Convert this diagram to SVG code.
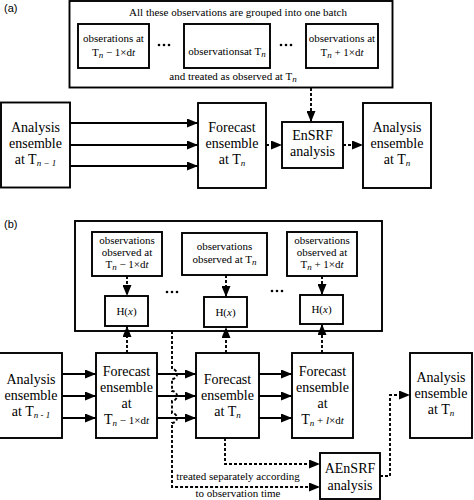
<svg xmlns="http://www.w3.org/2000/svg" width="474" height="500" viewBox="0 0 474 500">
<style>
.t{font-family:"Liberation Serif","Times New Roman",serif;fill:#000;text-anchor:middle}
.lab{font-family:"Liberation Sans",Arial,sans-serif;font-size:11px;fill:#000}
.s14{font-size:14px}
.s11{font-size:11px}
.i{font-style:italic}
.sb{font-size:9px}
.box{fill:#fff;stroke:#000;stroke-width:1.9}
.ln{stroke:#000;stroke-width:1.9;fill:none}
.dash{stroke-dasharray:3 2}
</style>
<defs>
<marker id="ah" markerUnits="userSpaceOnUse" markerWidth="11" markerHeight="9" refX="11" refY="4.5" orient="auto">
<path d="M0,0 L11,4.5 L0,9 z" fill="#000"/>
</marker>
</defs>
<rect width="474" height="500" fill="#fff"/>

<!-- Panel (a) -->
<text class="lab" x="4" y="12">(a)</text>
<g id="batch">
<rect class="box" x="69.5" y="1" width="323" height="86.5"/>
<text class="t s11" x="238" y="16">All these observations are grouped into one batch</text>
<text class="t s11" x="233" y="80">and treated as observed at T<tspan class="i sb" dy="2">n</tspan></text>
<circle cx="159" cy="45" r="1.3"/><circle cx="164" cy="45" r="1.3"/><circle cx="169" cy="45" r="1.3"/>
<circle cx="281" cy="45" r="1.3"/><circle cx="286" cy="45" r="1.3"/><circle cx="291" cy="45" r="1.3"/>
</g>
<g id="a-obs1">
<rect class="box" x="78" y="24" width="71" height="44"/>
<text class="t s11" x="113.5" y="42">obserations at</text>
<text class="t s11" x="113.5" y="56">T<tspan class="i sb" dy="2">n</tspan><tspan dy="-2"> − 1×d</tspan><tspan class="i">t</tspan></text>
</g>
<g id="a-obs2">
<rect class="box" x="184" y="24" width="86" height="44"/>
<text class="t s11" x="227" y="55">observationsat T<tspan class="i sb" dy="2">n</tspan></text>
</g>
<g id="a-obs3">
<rect class="box" x="306" y="24" width="72" height="44"/>
<text class="t s11" x="342" y="42">observations at</text>
<text class="t s11" x="342" y="56">T<tspan class="i sb" dy="2">n</tspan><tspan dy="-2"> + 1×d</tspan><tspan class="i">t</tspan></text>
</g>
<g id="a-analysis-prev">
<rect class="box" x="1" y="102.5" width="69" height="85"/>
<text class="t s14" x="35.5" y="132">Analysis</text>
<text class="t s14" x="35.5" y="148">ensemble</text>
<text class="t s14" x="35.5" y="164">at T<tspan class="i sb" dy="2">n − 1</tspan></text>
</g>
<g id="a-forecast">
<rect class="box" x="198" y="103" width="68" height="85"/>
<text class="t s14" x="232" y="132">Forecast</text>
<text class="t s14" x="232" y="148">ensemble</text>
<text class="t s14" x="232" y="164">at T<tspan class="i sb" dy="2">n</tspan></text>
</g>
<g id="a-ensrf">
<rect class="box" x="282" y="122" width="61" height="46"/>
<text class="t s14" x="312.5" y="140">EnSRF</text>
<text class="t s14" x="312.5" y="156">analysis</text>
</g>
<g id="a-analysis">
<rect class="box" x="363" y="103" width="68" height="85"/>
<text class="t s14" x="397" y="132">Analysis</text>
<text class="t s14" x="397" y="148">ensemble</text>
<text class="t s14" x="397" y="164">at T<tspan class="i sb" dy="2">n</tspan></text>
</g>
<g id="a-connectors">
<line class="ln" x1="70" y1="123" x2="198" y2="123" marker-end="url(#ah)"/>
<line class="ln" x1="70" y1="145" x2="198" y2="145" marker-end="url(#ah)"/>
<line class="ln" x1="70" y1="166" x2="198" y2="166" marker-end="url(#ah)"/>
<line class="ln dash" x1="311" y1="88" x2="311" y2="122" marker-end="url(#ah)"/>
<line class="ln dash" x1="266" y1="145" x2="282" y2="145" marker-end="url(#ah)"/>
<line class="ln dash" x1="343" y1="145" x2="363" y2="145" marker-end="url(#ah)"/>
</g>

<!-- Panel (b) -->
<text class="lab" x="4" y="228">(b)</text>
<g id="b-container">
<rect class="box" x="75" y="221" width="307" height="110"/>
<circle cx="167" cy="292" r="1.3"/><circle cx="172" cy="292" r="1.3"/><circle cx="177" cy="292" r="1.3"/>
<circle cx="272" cy="291" r="1.3"/><circle cx="277" cy="291" r="1.3"/><circle cx="282" cy="291" r="1.3"/>
</g>
<g id="b-obs1">
<rect class="box" x="92" y="232" width="70" height="44"/>
<text class="t s11" x="127" y="244">observations</text>
<text class="t s11" x="127" y="256">observed at</text>
<text class="t s11" x="127" y="268">T<tspan class="i sb" dy="2">n</tspan><tspan dy="-2"> − 1×d</tspan><tspan class="i">t</tspan></text>
</g>
<g id="b-obs2">
<rect class="box" x="182" y="233" width="85" height="42"/>
<text class="t s11" x="224.5" y="250">observations</text>
<text class="t s11" x="224.5" y="263">observed at T<tspan class="i sb" dy="2">n</tspan></text>
</g>
<g id="b-obs3">
<rect class="box" x="287" y="232" width="70" height="44"/>
<text class="t s11" x="322" y="244">observations</text>
<text class="t s11" x="322" y="256">observed at</text>
<text class="t s11" x="322" y="268">T<tspan class="i sb" dy="2">n</tspan><tspan dy="-2"> + 1×d</tspan><tspan class="i">t</tspan></text>
</g>
<g id="b-h1">
<rect class="box" x="105" y="296" width="43" height="30"/>
<text class="t s11" x="126.5" y="315">H(<tspan class="i">x</tspan>)</text>
</g>
<g id="b-h2">
<rect class="box" x="204" y="297" width="43" height="30"/>
<text class="t s11" x="225.5" y="316">H(<tspan class="i">x</tspan>)</text>
</g>
<g id="b-h3">
<rect class="box" x="300" y="295" width="43" height="29"/>
<text class="t s11" x="321.5" y="313">H(<tspan class="i">x</tspan>)</text>
</g>
<g id="b-analysis-prev">
<rect class="box" x="-1" y="353" width="63" height="85"/>
<text class="t s14" x="31" y="384">Analysis</text>
<text class="t s14" x="31" y="400">ensemble</text>
<text class="t s14" x="31" y="416">at T<tspan class="i sb" dy="2">n - 1</tspan></text>
</g>
<g id="b-forecast1">
<rect class="box" x="96" y="353" width="61" height="85"/>
<text class="t s14" x="126.5" y="376">Forecast</text>
<text class="t s14" x="126.5" y="392">ensemble</text>
<text class="t s14" x="126.5" y="408">at</text>
<text class="t s14" x="126.5" y="424">T<tspan class="i sb" dy="2">n</tspan><tspan class="s11" dy="-2"> − 1×d</tspan><tspan class="s11 i">t</tspan></text>
</g>
<g id="b-forecast2">
<rect class="box" x="196" y="353" width="63" height="85"/>
<text class="t s14" x="227.5" y="384">Forecast</text>
<text class="t s14" x="227.5" y="400">ensemble</text>
<text class="t s14" x="227.5" y="416">at T<tspan class="i sb" dy="2">n</tspan></text>
</g>
<g id="b-forecast3">
<rect class="box" x="292" y="353" width="61" height="85"/>
<text class="t s14" x="322.5" y="376">Forecast</text>
<text class="t s14" x="322.5" y="392">ensemble</text>
<text class="t s14" x="322.5" y="408">at</text>
<text class="t s14" x="322.5" y="424">T<tspan class="i sb" dy="2">n</tspan><tspan class="s11" dy="-2"> + </tspan><tspan class="s11 i">l</tspan><tspan class="s11">×d</tspan><tspan class="s11 i">t</tspan></text>
</g>
<g id="b-aensrf">
<rect class="box" x="320" y="453" width="60" height="46"/>
<text class="t s14" x="350" y="473">AEnSRF</text>
<text class="t s14" x="350" y="490">analysis</text>
</g>
<g id="b-analysis">
<rect class="box" x="410" y="353" width="62" height="85"/>
<text class="t s14" x="441" y="382">Analysis</text>
<text class="t s14" x="441" y="398">ensemble</text>
<text class="t s14" x="441" y="414">at T<tspan class="i sb" dy="2">n</tspan></text>
</g>
<g id="b-labels">
<text class="t s11" x="238" y="480">treated separately according</text>
<text class="t s11" x="238" y="497">to observation time</text>
</g>
<g id="b-connectors">
<line class="ln dash" x1="127" y1="276" x2="127" y2="296" marker-end="url(#ah)"/>
<line class="ln dash" x1="226" y1="275" x2="226" y2="297" marker-end="url(#ah)"/>
<line class="ln dash" x1="322" y1="276" x2="322" y2="295" marker-end="url(#ah)"/>
<line class="ln dash" x1="127" y1="353" x2="127" y2="326" marker-end="url(#ah)"/>
<line class="ln dash" x1="226" y1="353" x2="226" y2="327" marker-end="url(#ah)"/>
<line class="ln dash" x1="322" y1="353" x2="322" y2="324" marker-end="url(#ah)"/>
<line class="ln" x1="62" y1="374" x2="96" y2="374" marker-end="url(#ah)"/>
<line class="ln" x1="62" y1="396" x2="96" y2="396" marker-end="url(#ah)"/>
<line class="ln" x1="62" y1="418" x2="96" y2="418" marker-end="url(#ah)"/>
<line class="ln" x1="157" y1="374" x2="196" y2="374" marker-end="url(#ah)"/>
<line class="ln" x1="157" y1="396" x2="196" y2="396" marker-end="url(#ah)"/>
<line class="ln" x1="157" y1="418" x2="196" y2="418" marker-end="url(#ah)"/>
<line class="ln" x1="259" y1="374" x2="292" y2="374" marker-end="url(#ah)"/>
<line class="ln" x1="259" y1="396" x2="292" y2="396" marker-end="url(#ah)"/>
<line class="ln" x1="259" y1="418" x2="292" y2="418" marker-end="url(#ah)"/>
<path class="ln dash" d="M172,331 V369 A4.5,4.5 0 0,1 172,379 V391 A4.5,4.5 0 0,1 172,401 V413 A4.5,4.5 0 0,1 172,423 V487 H320" marker-end="url(#ah)"/>
<path class="ln dash" d="M225,438 V464 H320" marker-end="url(#ah)"/>
<path class="ln dash" d="M380,476 H390 V395 H410" marker-end="url(#ah)"/>
</g>
</svg>
